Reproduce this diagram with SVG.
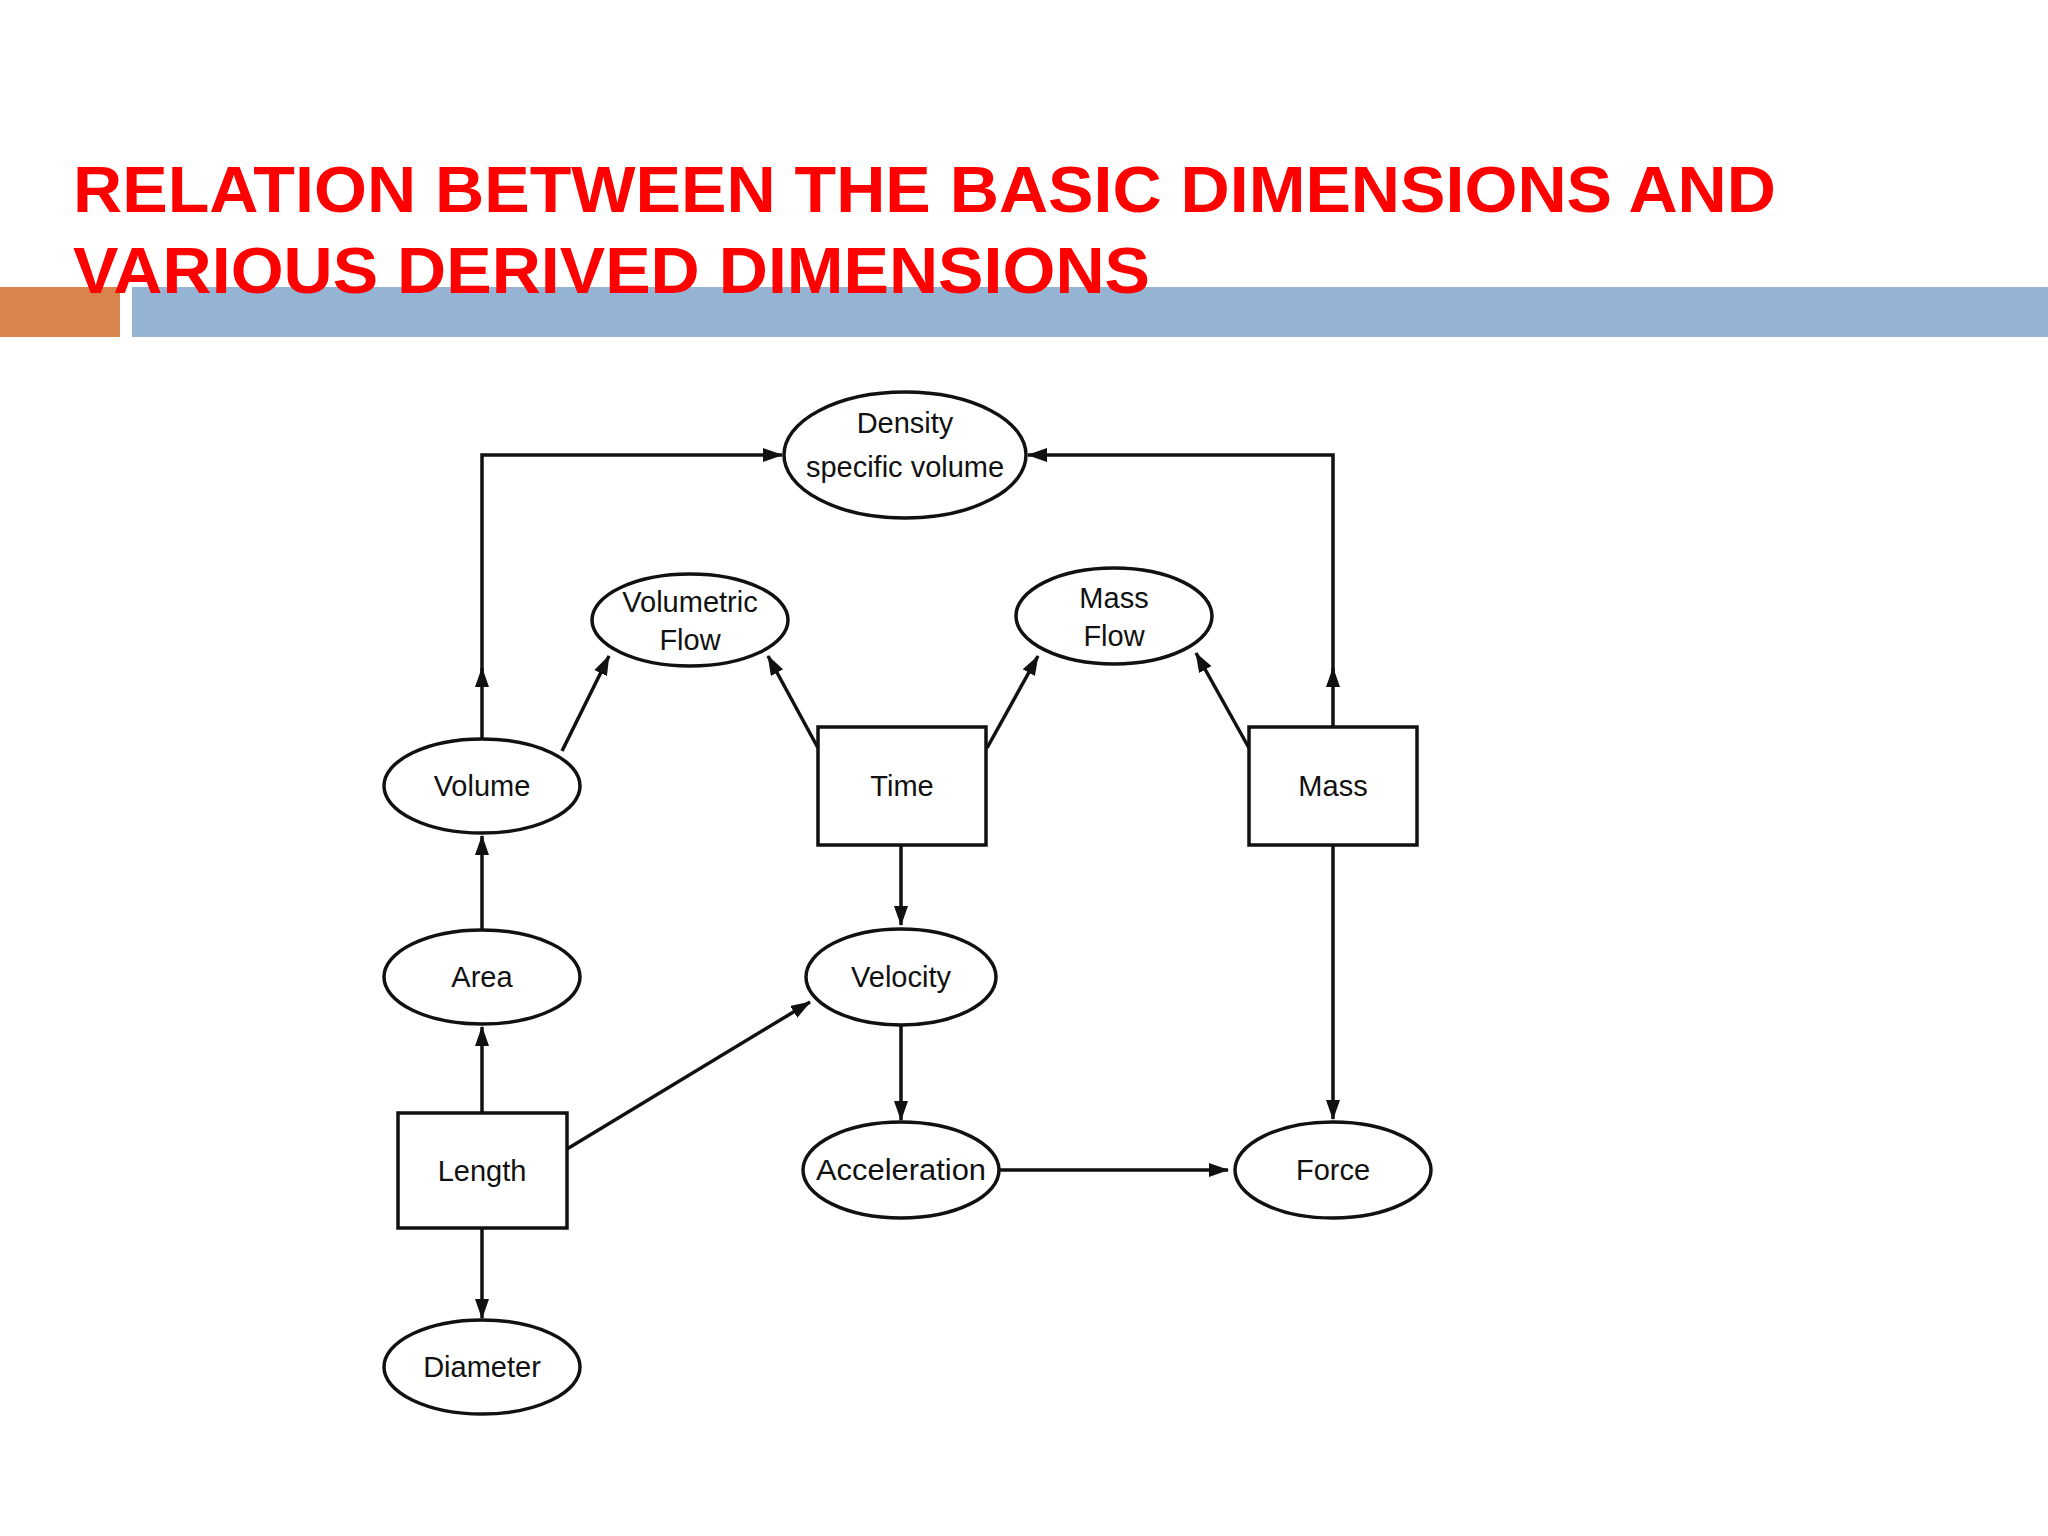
<svg xmlns="http://www.w3.org/2000/svg" width="2048" height="1536" viewBox="0 0 2048 1536">
<defs>
<marker id="ah" markerWidth="20" markerHeight="14" refX="19" refY="7" orient="auto" markerUnits="userSpaceOnUse" viewBox="0 0 20 14">
<path d="M0,0 L20,7 L0,14 Z" fill="#111"/>
</marker>
<style>
.n{fill:#fff;stroke:#111;stroke-width:3.5}
.t{font-family:"Liberation Sans",Arial,sans-serif;font-size:29px;fill:#111;text-anchor:middle}
.c{fill:none;stroke:#111;stroke-width:3.5}
.a{marker-end:url(#ah)}
</style>
</defs>
<rect width="2048" height="1536" fill="#fff"/>
<rect x="0" y="287" width="120" height="50" fill="#d9844c"/>
<rect x="132" y="287" width="1916" height="50" fill="#95b4d3"/>
<g font-family="Liberation Sans,Arial,sans-serif" font-weight="bold" font-size="64" fill="#ff0000">
<text x="73" y="212" textLength="1703" lengthAdjust="spacingAndGlyphs">RELATION BETWEEN THE BASIC DIMENSIONS AND</text>
<text x="73" y="293" textLength="1077" lengthAdjust="spacingAndGlyphs">VARIOUS DERIVED DIMENSIONS</text>
</g>
<g id="connectors">
<path class="c a" d="M482,739 L482,668"/>
<path class="c a" d="M482,680 L482,455 L782,455"/>
<path class="c a" d="M1333,727 L1333,668"/>
<path class="c a" d="M1333,680 L1333,455 L1028,455"/>
<path class="c a" d="M562,751 L609,656"/>
<path class="c a" d="M818,748 L768,656"/>
<path class="c a" d="M987,748 L1038,656"/>
<path class="c a" d="M1249,748 L1196,653"/>
<path class="c a" d="M901,845 L901,925"/>
<path class="c a" d="M1333,845 L1333,1119"/>
<path class="c a" d="M482,930 L482,836"/>
<path class="c a" d="M482,1113 L482,1027"/>
<path class="c a" d="M567,1149 L810,1002"/>
<path class="c a" d="M901,1026 L901,1120"/>
<path class="c a" d="M999,1170 L1228,1170"/>
<path class="c a" d="M482,1228 L482,1318"/>
</g>
<g id="density"><ellipse class="n" cx="905" cy="455" rx="121" ry="63"/><text class="t" x="905" y="433">Density</text><text class="t" x="905" y="477">specific volume</text></g>
<g id="volflow"><ellipse class="n" cx="690" cy="620" rx="98" ry="46"/><text class="t" x="690" y="612">Volumetric</text><text class="t" x="690" y="650">Flow</text></g>
<g id="massflow"><ellipse class="n" cx="1114" cy="616" rx="98" ry="48"/><text class="t" x="1114" y="608">Mass</text><text class="t" x="1114" y="646">Flow</text></g>
<g id="volume"><ellipse class="n" cx="482" cy="786" rx="98" ry="47"/><text class="t" x="482" y="796">Volume</text></g>
<g id="time"><rect class="n" x="818" y="727" width="168" height="118"/><text class="t" x="902" y="796">Time</text></g>
<g id="mass"><rect class="n" x="1249" y="727" width="168" height="118"/><text class="t" x="1333" y="796">Mass</text></g>
<g id="area"><ellipse class="n" cx="482" cy="977" rx="98" ry="47"/><text class="t" x="482" y="987">Area</text></g>
<g id="velocity"><ellipse class="n" cx="901" cy="977" rx="95" ry="48"/><text class="t" x="901" y="987">Velocity</text></g>
<g id="length"><rect class="n" x="398" y="1113" width="169" height="115"/><text class="t" x="482" y="1181">Length</text></g>
<g id="acceleration"><ellipse class="n" cx="901" cy="1170" rx="98" ry="48"/><text class="t" x="901" y="1180" textLength="170" lengthAdjust="spacingAndGlyphs">Acceleration</text></g>
<g id="force"><ellipse class="n" cx="1333" cy="1170" rx="98" ry="48"/><text class="t" x="1333" y="1180">Force</text></g>
<g id="diameter"><ellipse class="n" cx="482" cy="1367" rx="98" ry="47"/><text class="t" x="482" y="1377">Diameter</text></g>
</svg>
